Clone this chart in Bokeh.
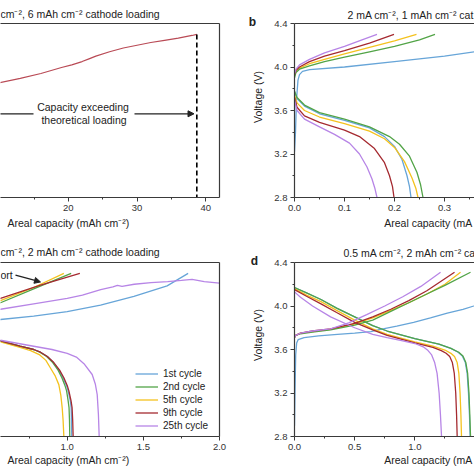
from bokeh.plotting import figure
from bokeh.layouts import column
from bokeh.models import (Range1d, LinearAxis, FixedTicker, Label, Arrow, NormalHead,
                          Legend, LegendItem, PrintfTickFormatter, GridBox)
from bokeh.embed import file_html
from bokeh.resources import INLINE

# ---------------- data ----------------
# panel a : 6 mAh cm-2 cathode, charge runs past theoretical loading
a_x = [0, 5, 10, 13, 16, 19, 20.5, 22, 23, 24, 26, 28, 30, 32, 34, 36, 38, 38.7]
a_y = [3.70, 3.78, 3.855, 3.895, 3.94, 3.995, 4.02, 4.05, 4.075, 4.1, 4.14, 4.175, 4.20, 4.225, 4.245, 4.265, 4.29, 4.30]

# panel b : 2 mA cm-2, 1 mAh cm-2
b_chg = {
    "1st": ([0, 0.002, 0.004, 0.007, 0.01, 0.016, 0.03, 0.1, 0.2, 0.3, 0.36, 0.45, 0.52],
            [3.22, 3.40, 3.70, 3.88, 3.93, 3.96, 3.975, 4.00, 4.05, 4.10, 4.14, 4.20, 4.30]),
    "2nd": ([0, 0.003, 0.01, 0.03, 0.06, 0.1, 0.15, 0.2, 0.25, 0.281],
            [3.90, 3.95, 3.98, 4.01, 4.05, 4.09, 4.14, 4.19, 4.25, 4.30]),
    "5th": ([0, 0.003, 0.01, 0.03, 0.06, 0.1, 0.15, 0.2, 0.244],
            [3.92, 3.96, 3.99, 4.03, 4.07, 4.12, 4.18, 4.24, 4.30]),
    "9th": ([0, 0.003, 0.01, 0.03, 0.06, 0.1, 0.15, 0.199],
            [3.93, 3.97, 4.00, 4.05, 4.10, 4.15, 4.22, 4.30]),
    "25th": ([0, 0.003, 0.01, 0.03, 0.06, 0.1, 0.135, 0.165],
             [3.94, 3.98, 4.02, 4.07, 4.13, 4.19, 4.25, 4.30]),
}
b_dis = {
    "1st": ([0, 0.005, 0.02, 0.05, 0.1, 0.15, 0.18, 0.2, 0.215, 0.225, 0.23, 0.233],
            [3.77, 3.71, 3.64, 3.57, 3.51, 3.44, 3.36, 3.27, 3.15, 3.00, 2.90, 2.80]),
    "2nd": ([0, 0.005, 0.02, 0.05, 0.1, 0.15, 0.19, 0.21, 0.23, 0.245, 0.252, 0.257],
            [3.78, 3.72, 3.65, 3.58, 3.52, 3.45, 3.36, 3.29, 3.18, 3.03, 2.92, 2.80]),
    "5th": ([0, 0.005, 0.02, 0.05, 0.1, 0.15, 0.18, 0.2, 0.22, 0.235, 0.243, 0.247],
            [3.74, 3.67, 3.60, 3.54, 3.48, 3.41, 3.34, 3.26, 3.13, 2.98, 2.88, 2.80]),
    "9th": ([0, 0.005, 0.02, 0.05, 0.1, 0.13, 0.16, 0.18, 0.19, 0.196, 0.199],
            [3.72, 3.63, 3.55, 3.49, 3.42, 3.36, 3.25, 3.12, 3.00, 2.90, 2.80]),
    "25th": ([0, 0.005, 0.02, 0.05, 0.08, 0.11, 0.13, 0.145, 0.155, 0.161, 0.165],
             [3.70, 3.60, 3.52, 3.45, 3.38, 3.30, 3.20, 3.08, 2.97, 2.88, 2.80]),
}

# panel c : 2 mAh cm-2 cathode (soft short on 25th cycle)
c_chg = {
    "1st": ([0.5, 0.562, 0.78, 1.0, 1.219, 1.438, 1.656, 1.794],
            [3.86, 3.876, 3.906, 3.948, 4.009, 4.088, 4.185, 4.30]),
    "2nd": ([0.5, 0.562, 0.78, 1.026], [4.01, 4.03, 4.157, 4.30]),
    "5th": ([0.5, 0.562, 0.78, 0.978], [4.03, 4.05, 4.17, 4.30]),
    "9th": ([0.5, 0.562, 0.82, 1.083], [4.05, 4.07, 4.19, 4.30]),
    "25th": ([0.5, 0.562, 0.78, 1.0, 1.1, 1.22, 1.3, 1.33, 1.36, 1.44, 1.55, 1.66, 1.75, 1.82, 1.9, 2.0, 2.05],
             [3.95, 3.97, 4.02, 4.07, 4.10, 4.15, 4.175, 4.19, 4.18, 4.20, 4.215, 4.225, 4.235, 4.245, 4.225, 4.21, 4.20]),
}
c_dis = {
    "1st": ([0.3, 0.562, 0.69, 0.78, 0.825, 0.87, 0.91, 0.945, 0.972, 0.995, 1.006, 1.02, 1.026, 1.03],
            [3.80, 3.68, 3.63, 3.60, 3.575, 3.535, 3.48, 3.41, 3.34, 3.27, 3.22, 3.13, 3.066, 2.80]),
    "2nd": ([0.3, 0.562, 0.69, 0.78, 0.82, 0.865, 0.905, 0.94, 0.965, 0.985, 0.996, 1.006, 1.012, 1.015, 1.017],
            [3.80, 3.68, 3.63, 3.60, 3.575, 3.535, 3.48, 3.41, 3.34, 3.27, 3.22, 3.13, 3.066, 2.95, 2.80]),
    "5th": ([0.3, 0.562, 0.69, 0.76, 0.82, 0.86, 0.89, 0.92, 0.945, 0.958, 0.967, 0.973, 0.978],
            [3.79, 3.67, 3.62, 3.59, 3.55, 3.50, 3.43, 3.36, 3.277, 3.18, 3.066, 2.95, 2.80]),
    "9th": ([0.3, 0.562, 0.69, 0.78, 0.825, 0.87, 0.912, 0.95, 0.978, 1.0, 1.011, 1.025, 1.032, 1.036, 1.039],
            [3.80, 3.68, 3.63, 3.60, 3.575, 3.535, 3.48, 3.41, 3.34, 3.27, 3.22, 3.13, 3.066, 2.95, 2.80]),
    "25th": ([0.3, 0.562, 0.78, 0.9, 1.0, 1.06, 1.11, 1.164, 1.185, 1.197, 1.205, 1.21],
             [3.78, 3.685, 3.63, 3.60, 3.564, 3.53, 3.47, 3.37, 3.28, 3.185, 3.00, 2.80]),
}

# panel d : 0.5 mA cm-2, 2 mAh cm-2
d_chg = {
    "1st": ([0, 0.004, 0.01, 0.018, 0.03, 0.08, 0.2, 0.357, 0.5, 0.634, 0.715, 0.85, 0.99, 1.13, 1.27, 1.4, 1.49, 1.6, 1.7, 1.78],
            [2.90, 3.20, 3.55, 3.66, 3.69, 3.71, 3.725, 3.74, 3.75, 3.765, 3.785, 3.815, 3.85, 3.89, 3.935, 3.97, 4.00, 4.06, 4.16, 4.30]),
    "2nd": ([0, 0.01, 0.05, 0.15, 0.3, 0.5, 0.65, 0.8, 0.95, 1.1, 1.25, 1.463],
            [3.71, 3.73, 3.745, 3.76, 3.78, 3.825, 3.87, 3.95, 4.03, 4.11, 4.19, 4.31]),
    "5th": ([0, 0.01, 0.05, 0.15, 0.3, 0.5, 0.65, 0.8, 0.95, 1.1, 1.25, 1.38],
            [3.71, 3.73, 3.75, 3.765, 3.785, 3.835, 3.89, 3.96, 4.03, 4.11, 4.20, 4.31]),
    "9th": ([0, 0.01, 0.05, 0.15, 0.3, 0.5, 0.65, 0.8, 0.95, 1.1, 1.33],
            [3.71, 3.73, 3.75, 3.77, 3.79, 3.84, 3.90, 3.97, 4.05, 4.14, 4.31]),
    "25th": ([0, 0.01, 0.05, 0.15, 0.3, 0.45, 0.6, 0.75, 0.9, 1.05, 1.214],
             [3.71, 3.73, 3.75, 3.77, 3.79, 3.845, 3.92, 4.00, 4.085, 4.18, 4.31]),
}
d_dis = {
    "1st": ([0, 0.1, 0.22, 0.35, 0.5, 0.65, 0.77, 1.0, 1.2, 1.3, 1.36, 1.395, 1.42, 1.435, 1.446, 1.454, 1.46],
            [4.17, 4.12, 4.06, 3.98, 3.90, 3.82, 3.77, 3.70, 3.65, 3.61, 3.575, 3.54, 3.48, 3.38, 3.20, 3.00, 2.80]),
    "2nd": ([0, 0.1, 0.22, 0.35, 0.5, 0.65, 0.77, 1.0, 1.2, 1.3, 1.365, 1.4, 1.424, 1.439, 1.45, 1.457, 1.463],
            [4.17, 4.12, 4.06, 3.98, 3.90, 3.82, 3.77, 3.70, 3.65, 3.61, 3.575, 3.54, 3.48, 3.38, 3.20, 3.00, 2.80]),
    "5th": ([0, 0.1, 0.22, 0.35, 0.5, 0.65, 0.77, 1.0, 1.15, 1.25, 1.3, 1.33, 1.352, 1.366, 1.376, 1.383, 1.388],
            [4.16, 4.10, 4.04, 3.96, 3.87, 3.79, 3.74, 3.67, 3.63, 3.595, 3.565, 3.535, 3.48, 3.38, 3.20, 3.00, 2.80]),
    "9th": ([0, 0.1, 0.22, 0.35, 0.5, 0.65, 0.77, 1.0, 1.15, 1.22, 1.26, 1.29, 1.312, 1.328, 1.34, 1.347, 1.352],
            [4.15, 4.09, 4.02, 3.94, 3.85, 3.78, 3.73, 3.66, 3.62, 3.59, 3.565, 3.535, 3.48, 3.38, 3.20, 3.00, 2.80]),
    "25th": ([0, 0.05, 0.15, 0.3, 0.5, 0.65, 0.77, 0.9, 1.0, 1.07, 1.11, 1.14, 1.165, 1.185, 1.202, 1.213, 1.222],
             [4.13, 4.08, 4.00, 3.90, 3.80, 3.74, 3.71, 3.68, 3.655, 3.625, 3.59, 3.55, 3.48, 3.38, 3.20, 3.00, 2.80]),
}

cycles = ["1st", "2nd", "5th", "9th", "25th"]
cycle_labels = ["1st cycle", "2nd cycle", "5th cycle", "9th cycle", "25th cycle"]
colors = {"1st": "#67a5d8", "2nd": "#52a447", "5th": "#f4c21e", "9th": "#a52a30", "25th": "#b785e6"}
draw_order = ["1st", "5th", "2nd", "9th", "25th"]

# visible parts of the (cropped) panel texts
titles = ["cm\u207b\u00b2, 6 mAh cm\u207b\u00b2 cathode loading",
          "2 mA cm\u207b\u00b2, 1 mAh cm\u207b\u00b2 cat",
          "cm\u207b\u00b2, 2 mAh cm\u207b\u00b2 cathode loading",
          "0.5 mA cm\u207b\u00b2, 2 mAh cm\u207b\u00b2 ca"]
xlabel = "Areal capacity (mAh cm\u207b\u00b2)"
xlabel_cut = "Areal capacity (mA"
ylabel = "Voltage (V)"

FONT = "Liberation Sans"
TXT = "#222222"
AX = "#3a3a3a"
YR = (2.8, 4.4)


def border_axis(p, side):
    ax = LinearAxis(ticker=FixedTicker(ticks=[]), major_label_text_font_size="0px",
                    major_tick_out=0, major_tick_in=0, minor_tick_out=0, minor_tick_in=0,
                    major_label_standoff=0, axis_line_color=AX, axis_line_width=1.2)
    p.add_layout(ax, side)


def make_fig(xr, yr, ml, mr, mt, mb, xticks, xminor, xfmt, left_axis):
    p = figure(width=237, height=237, x_range=Range1d(*xr), y_range=Range1d(*yr),
               output_backend="svg", toolbar_location=None, title=None,
               x_axis_location=None, y_axis_location=None,
               min_border_left=ml, min_border_right=mr, min_border_top=mt, min_border_bottom=mb)
    p.outline_line_color = None
    for g in p.grid:
        g.visible = False
    xa = LinearAxis(ticker=FixedTicker(ticks=xticks, minor_ticks=xminor),
                    formatter=PrintfTickFormatter(format=xfmt))
    p.add_layout(xa, "below")
    axes = [xa]
    if left_axis:
        ya = LinearAxis(ticker=FixedTicker(ticks=[2.8, 3.2, 3.6, 4.0, 4.4], minor_ticks=[3.0, 3.4, 3.8, 4.2]),
                        formatter=PrintfTickFormatter(format="%.1f"))
        p.add_layout(ya, "left")
        axes.append(ya)
    for ax in axes:
        ax.axis_line_color = AX
        ax.axis_line_width = 1.2
        ax.major_tick_line_color = AX
        ax.minor_tick_line_color = AX
        ax.major_tick_out = 4
        ax.major_tick_in = 0
        ax.minor_tick_out = 2
        ax.minor_tick_in = 0
        ax.major_label_standoff = 3
        ax.major_label_text_font = FONT
        ax.major_label_text_font_size = "9.5px"
        ax.major_label_text_color = "#333333"
    border_axis(p, "above")
    if not left_axis:
        border_axis(p, "right")
    p.background_fill_color = "white"
    p.border_fill_color = "white"
    return p


def label(p, x, y, text, size="10.5px", align="left", angle=0, bold=False):
    p.add_layout(Label(x=x, y=y, text=text, text_font=FONT, text_font_size=size, text_color=TXT,
                       text_align=align, text_baseline="middle", angle=angle, angle_units="deg",
                       text_font_style="bold" if bold else "normal"))


def mapper(fx0, fx1, fy0, fy1, xr, yr):
    def f(px, py):
        return (xr[0] + (px - fx0) * (xr[1] - xr[0]) / (fx1 - fx0),
                yr[1] - (py - fy0) * (yr[1] - yr[0]) / (fy1 - fy0))
    return f


# ---------------- panel a ----------------
a_xr = (10.12, 42.0)
pa = make_fig(a_xr, YR, 0, 18, 23, 40, [0, 10, 20, 30, 40], [5, 15, 25, 35], "%d", False)
ma = mapper(0, 219, 23, 197, a_xr, YR)
pa.line(a_x, a_y, line_color="#b94a55", line_width=1.2)
pa.segment(x0=[a_x[-1]], y0=[a_y[-1]], x1=[a_x[-1]], y1=[YR[0]],
           line_color="black", line_width=1.6, line_dash="5 3")
label(pa, *ma(82.5, 106.7), "Capacity exceeding", align="center")
label(pa, *ma(83.5, 119), "theoretical loading", align="center")
x0, yarr = ma(-5, 113.3)
x1, _ = ma(33, 113.3)
pa.add_layout(Arrow(end=None, x_start=x0, y_start=yarr, x_end=x1, y_end=yarr, line_color="#222", line_width=1.2))
x2, _ = ma(134, 113.3)
x3, _ = ma(193.5, 113.3)
pa.add_layout(Arrow(end=NormalHead(size=6, fill_color="#222", line_color="#222"),
                    x_start=x2, y_start=yarr, x_end=x3, y_end=yarr, line_color="#222", line_width=1.2))

# ---------------- panel b ----------------
b_xr = (0, 0.36)
pb = make_fig(b_xr, YR, 57, 0, 23, 40, [0, 0.1, 0.2, 0.3], [0.05, 0.15, 0.25, 0.35], "%.1f", True)
for c in draw_order:
    pb.line(*b_chg[c], line_color=colors[c], line_width=1.3)
    pb.line(*b_dis[c], line_color=colors[c], line_width=1.3)

# ---------------- panel c ----------------
c_xr = (0.562, 2.0)
pc = make_fig(c_xr, YR, 0, 18, 23, 38, [0.5, 1.0, 1.5, 2.0], [0.75, 1.25, 1.75], "%.1f", False)
mc = mapper(0, 219, 23, 199, c_xr, YR)
c_renderers = {}
for c in draw_order:
    r = pc.line(*c_chg[c], line_color=colors[c], line_width=1.3)
    pc.line(*c_dis[c], line_color=colors[c], line_width=1.3)
    c_renderers[c] = r
label(pc, *mc(0, 272.4 - 237), "ort")
sx, sy = mc(15, 272.7 - 237)
ex, ey = mc(40, 279.7 - 237)
pc.add_layout(Arrow(end=NormalHead(size=6, fill_color="#222", line_color="#222"),
                    x_start=sx, y_start=sy, x_end=ex, y_end=ey, line_color="#222", line_width=1.3))
legend = Legend(items=[LegendItem(label=lab, renderers=[c_renderers[c]]) for c, lab in zip(cycles, cycle_labels)],
                location=(135, 4), padding=0, margin=0, spacing=0, glyph_width=23, glyph_height=13,
                label_height=13, label_standoff=5, label_text_font=FONT, label_text_font_size="10px",
                label_text_color=TXT, border_line_color=None, background_fill_alpha=0)
pc.add_layout(legend)

# ---------------- panel d ----------------
d_xr = (0, 1.496)
pd_ = make_fig(d_xr, YR, 57, 0, 25, 38, [0, 0.5, 1.0, 1.5], [0.25, 0.75, 1.25], "%.1f", True)
for c in draw_order:
    pd_.line(*d_chg[c], line_color=colors[c], line_width=1.3)
    pd_.line(*d_dis[c], line_color=colors[c], line_width=1.3)

# ---------------- overlay for the texts that sit outside the panel frames (page pixels) ----------------
ov = figure(width=474, height=474, x_range=Range1d(0, 474), y_range=Range1d(474, 0),
            output_backend="svg", toolbar_location=None, title=None,
            x_axis_location=None, y_axis_location=None,
            min_border_left=0, min_border_right=0, min_border_top=0, min_border_bottom=0)
ov.outline_line_color = None
for g in ov.grid:
    g.visible = False
ov.background_fill_color = None
ov.border_fill_color = None

label(ov, 0, 13.3, titles[0])
label(ov, 347, 14.7, titles[1])
label(ov, 0, 251.7, titles[2])
label(ov, 343, 252, titles[3])
label(ov, 252, 21.7, "b", size="12px", align="center", bold=True)
label(ov, 254, 260.3, "d", size="12px", align="center", bold=True)
label(ov, 257, 96.5, ylabel, align="center", angle=90)
label(ov, 257.5, 334.5, ylabel, align="center", angle=90)
label(ov, 7, 222.7, xlabel)
label(ov, 7, 459.7, xlabel)
label(ov, 383.7, 222.7, xlabel_cut)
label(ov, 383.7, 459.7, xlabel_cut)

layout = GridBox(children=[(pa, 0, 0), (pb, 0, 1), (pc, 1, 0), (pd_, 1, 1), (column(ov), 0, 0, 2, 2)])
open("out.html", "w").write(file_html(layout, INLINE))
